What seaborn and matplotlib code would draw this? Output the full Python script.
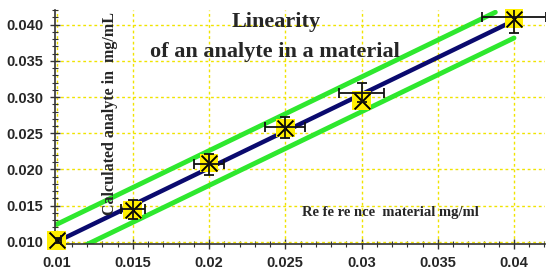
import numpy as np
import pandas as pd
import matplotlib
matplotlib.use('Agg')
import matplotlib.pyplot as plt
import seaborn as sns
from matplotlib.ticker import AutoMinorLocator, FormatStrFormatter

# data
ref_conc = [0.010, 0.015, 0.020, 0.025, 0.030, 0.040]
calc_conc = [0.0102, 0.0144, 0.0209, 0.0257, 0.0295, 0.0408]
bar_center = [0.0102, 0.0145, 0.0207, 0.0258, 0.0306, 0.0410]
x_err = [0.0003, 0.0008, 0.0010, 0.0013, 0.0015, 0.0021]
y_err = [0.0003, 0.0013, 0.0014, 0.0015, 0.0013, 0.0021]
band_half = 0.0024

df = pd.DataFrame({'ref': ref_conc, 'calc': calc_conc, 'bar': bar_center,
                   'xe': x_err, 'ye': y_err})

sns.set_style('white')
fig = plt.figure(figsize=(5.5, 2.73), dpi=100)
ax = fig.add_axes([0.1, 0.106, 0.89, 0.857])

# fit line + band
slope, icpt = np.polyfit(df['ref'], df['calc'], 1)
xs = np.linspace(df['ref'].min(), df['ref'].max(), 50)
fit = slope * xs + icpt
sns.lineplot(x=xs, y=fit, color='#0a0a6e', lw=3.2, ax=ax, zorder=3)
up = xs <= 0.0393
sns.lineplot(x=xs[up], y=fit[up] + band_half, color='#2ee82e', lw=3.5, ax=ax, zorder=2)
sns.lineplot(x=xs, y=fit - band_half, color='#2ee82e', lw=3.5, ax=ax, zorder=2)

sns.scatterplot(data=df, x='ref', y='calc', marker='s', s=180, color='#ffee00',
                edgecolor='none', ax=ax, zorder=5, clip_on=False)
ax.scatter(df['ref'], df['calc'], marker='x', s=130, color='black', lw=1.4,
           zorder=6, clip_on=False)
ax.errorbar(df['ref'], df['bar'], xerr=df['xe'], yerr=df['ye'], fmt='none',
            ecolor='#111111', elinewidth=1.3, capsize=3.5, capthick=1.3, zorder=7)

ax.set_xlim(0.0099, 0.042)
ax.set_ylim(0.0097, 0.042)
ax.set_xticks([0.01, 0.015, 0.02, 0.025, 0.03, 0.035, 0.04])
ax.set_xticklabels(['0.01', '0.015', '0.02', '0.025', '0.03', '0.035', '0.04'])
ax.set_yticks([0.010, 0.015, 0.020, 0.025, 0.030, 0.035, 0.040])
ax.yaxis.set_major_formatter(FormatStrFormatter('%.3f'))
ax.xaxis.set_minor_locator(AutoMinorLocator(5))
ax.yaxis.set_minor_locator(AutoMinorLocator(5))
ax.tick_params(which='major', direction='inout', length=7, width=1, color='#333333',
               labelsize=10.5, pad=5)
ax.tick_params(which='minor', direction='inout', length=4, width=0.8, color='#333333')
ax.tick_params(axis='both', which='both', bottom=True, left=True)
for lab in ax.get_xticklabels() + ax.get_yticklabels():
    lab.set_family('Liberation Sans')
    lab.set_fontweight('bold')

ax.grid(True, color='#f0e400', ls=(0, (2, 2)), lw=1)
for s in ['top', 'right']:
    ax.spines[s].set_visible(False)
for s in ['left', 'bottom']:
    ax.spines[s].set_color('#333333')
    ax.spines[s].set_linewidth(1.2)
ax.set_xlabel('')
ax.set_ylabel('')

serif = 'Liberation Serif'
fig.text(0.502, 0.92, 'Linearity', family=serif, weight='bold', fontsize=16,
         ha='center', va='center')
fig.text(0.5, 0.81, 'of an analyte in a material', family=serif, weight='bold',
         fontsize=16, ha='center', va='center')
fig.text(0.2, 0.586, 'Calculated analyte in  mg/mL', family=serif, weight='bold',
         fontsize=11.5, rotation=90, ha='center', va='center')
fig.text(0.709, 0.22, 'Re fe re nce  material mg/ml', family=serif, weight='bold',
         fontsize=10.5, ha='center', va='center')

fig.savefig('out.png', dpi=100)
